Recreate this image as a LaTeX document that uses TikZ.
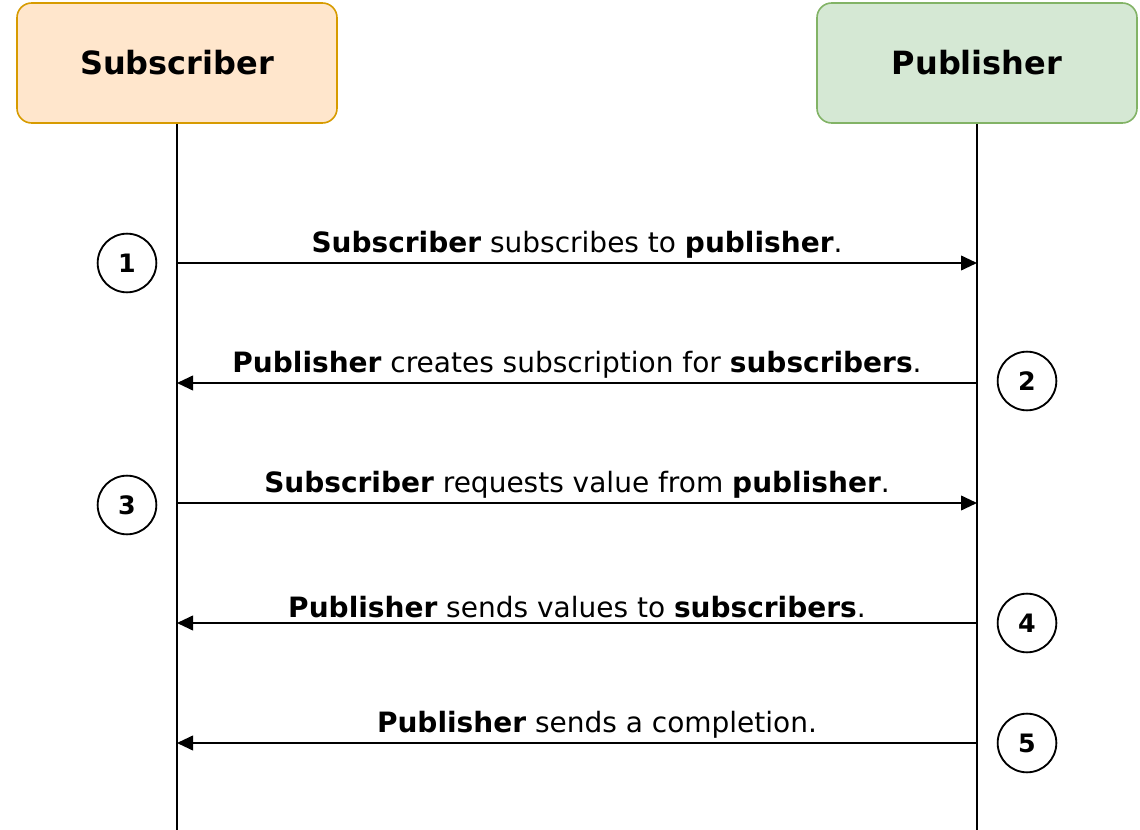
\documentclass[tikz,border=0pt]{standalone}
\usepackage{fontspec}
\setmainfont{DejaVu Sans}
\usepackage{tikz}
\usetikzlibrary{arrows.meta,positioning,calc}
\definecolor{subfill}{HTML}{FFE6CC}
\definecolor{subdraw}{HTML}{D79B00}
\definecolor{pubfill}{HTML}{D5E8D4}
\definecolor{pubdraw}{HTML}{82B366}
\tikzstyle{msg} = [line width=1.4pt,-{Triangle[length=12pt,width=11pt]}]
\tikzstyle{lifeline} = [line width=1.4pt]
\tikzstyle{actor} = [rectangle, rounded corners=11pt, minimum width=240pt, minimum height=90pt, text centered, line width=1.2pt, font=\fontsize{24}{28}\selectfont\bfseries]
\tikzstyle{stepnum} = [circle, draw, line width=1.4pt, minimum size=44pt, inner sep=0pt, font=\fontsize{19}{22}\selectfont\bfseries]
\tikzstyle{msglabel} = [above, inner sep=3pt, font=\fontsize{21}{24}\selectfont]

\begin{document}
\begin{tikzpicture}[x=0.75pt, y=-0.75pt]
    \useasboundingbox (0,0) rectangle (1140,830);
    % Nodes
    \node[actor, draw=subdraw, fill=subfill] (subscriber) at (177,63) {Subscriber};
    \node[actor, draw=pubdraw, fill=pubfill] (publisher) at (977,63) {Publisher};

    % Lifelines
    \coordinate (subend) at (177,830);
    \coordinate (pubend) at (977,830);
    \draw[lifeline] (subscriber.south) -- (subend);
    \draw[lifeline] (publisher.south) -- (pubend);

    % Message points
    \coordinate (s1) at (177,263);
    \coordinate (p1) at (977,263);
    \coordinate (s2) at (177,383);
    \coordinate (p2) at (977,383);
    \coordinate (s3) at (177,503);
    \coordinate (p3) at (977,503);
    \coordinate (s4) at (177,623);
    \coordinate (p4) at (977,623);
    \coordinate (s5) at (177,743);
    \coordinate (p5) at (977,743);

    % Arrows
    \draw[msg] (s1) -- (p1) node[midway, msglabel] {\textbf{Subscriber} subscribes to \textbf{publisher}.};
    \draw[msg] (p2) -- (s2) node[midway, msglabel] {\textbf{Publisher} creates subscription for \textbf{subscribers}.};
    \draw[msg] (s3) -- (p3) node[midway, msglabel] {\textbf{Subscriber} requests value from \textbf{publisher}.};
    \draw[msg] (p4) -- (s4) node[midway, msglabel] {\textbf{Publisher} sends values to \textbf{subscribers}.};
    \draw[msg] (p5) -- (s5) node[midway, msglabel, xshift=15pt] {\textbf{Publisher} sends a completion.};

    % Numbers
    \node[stepnum] (n1) at (127,263) {1};
    \node[stepnum] (n2) at (1027,381) {2};
    \node[stepnum] (n3) at (127,505) {3};
    \node[stepnum] (n4) at (1027,623) {4};
    \node[stepnum] (n5) at (1027,743) {5};
\end{tikzpicture}
\end{document}
